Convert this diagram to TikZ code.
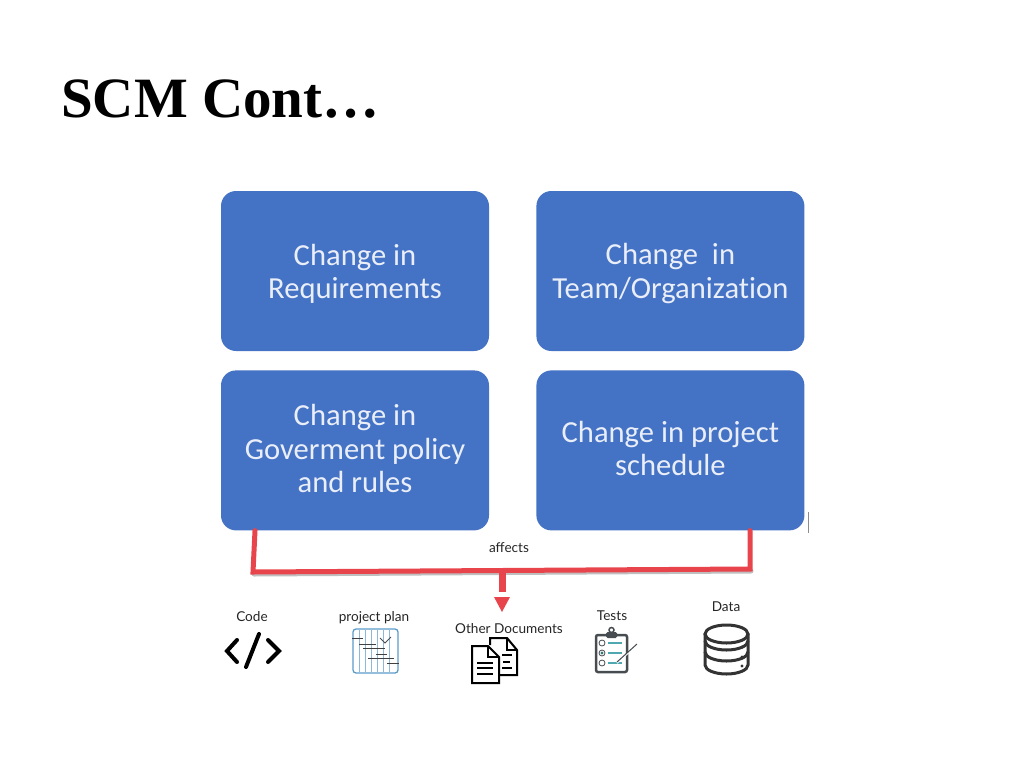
\documentclass[tikz,border=0pt]{standalone}
\usepackage{fontspec}
\setmainfont[Ligatures=NoCommon]{Carlito}
\newfontfamily\titlefont{Liberation Serif}
\newfontfamily\notefont{Lato}
\usetikzlibrary{positioning}

\definecolor{boxblue}{HTML}{4472C4}
\definecolor{linered}{HTML}{E8444C}
\definecolor{planblue}{HTML}{5B9BC8}
\definecolor{testteal}{HTML}{4FA8B0}
\definecolor{icongray}{HTML}{474C50}

\tikzset{
	changebox/.style={draw=none, fill=boxblue, rounded corners=15pt, minimum width=268pt, minimum height=160pt, inner sep=0pt},
	boxtext/.style={align=center, inner sep=0pt, text=white!88!boxblue, font=\fontsize{30.6}{33.5}\selectfont},
	note/.style={inner sep=0pt, text=black!85, font=\notefont\fontsize{13.6}{16}\selectfont},
	redline/.style={line width=5pt, draw=linered, line cap=round, line join=miter},
	redshadow/.style={line width=5pt, draw=black!25, line cap=round},
	iconline/.style={line width=2pt, draw=black, line join=miter},
	plangrid/.style={line width=0.7pt, draw=planblue!70},
	plantask/.style={line width=0.9pt, draw=black!75},
	dbline/.style={line width=3pt, draw=black!80, line cap=round}
}

\begin{document}
\begin{tikzpicture}[x=1pt,y=-1pt]

\useasboundingbox (0,0) rectangle (1024,768);

\node[anchor=base west, inner sep=0pt, font=\titlefont\bfseries\fontsize{57}{60}\selectfont] (title) at (61,117) {SCM Cont…};

\node[changebox, label={[boxtext,yshift=-3pt]center:{Change in\\Requirements}}] (req) at (355,271) {};
\node[changebox, right=47pt of req, label={[boxtext,yshift=-2.5pt]center:{Change\ \ in\\Team/Organization}}] (team) {};
\node[changebox, below=19pt of req, label={[boxtext,yshift=1.5pt]center:{Change in\\Goverment policy\\and rules}}] (gov) {};
\node[changebox, below=19pt of team, label={[boxtext,yshift=2pt]center:{Change in project\\schedule}}] (sched) {};

\draw[line width=1pt, draw=black!45] (808,512) -- (808,533);

% red lines
\coordinate (busl) at (253,572);
\coordinate (busr) at (750,569);
\coordinate (stem) at (502,570);
\coordinate (stemend) at (502,592);

\draw[redshadow] ([shift={(1,2)}]busl) -- ([shift={(1,2)}]busr);
\draw[redline] (gov.south -| 255,0) -- (busl) -- (busr) -- (sched.south -| busr);
\draw[line width=7pt, draw=linered] (stem) -- (stemend);
\fill[linered] (494,597) -- (510,597) -- (502,612) -- cycle;

\node[note] (affects) at (509,548) {affects};
\node[note] (code) at (252,617) {Code};
\node[note] (plan) at (374,618) {project plan};
\node[note] (docs) at (509,629) {Other Documents};
\node[note] (tests) at (612,616) {Tests};
\node[note] (data) at (726,607) {Data};

% code
\draw[line width=4pt, line cap=round] (237,640) -- (227,651) -- (237,662);
\draw[line width=4pt, line cap=round] (259,634) -- (246,667);
\draw[line width=4pt, line cap=round] (268,640) -- (279,651) -- (268,662);

% plan
\foreach \x in {359,365,371,377,383,389}
\draw[plangrid] (\x,630) -- (\x,672);
\draw[line width=1.3pt, draw=planblue, rounded corners=3pt] (353,629) rectangle (398,673);
\foreach \xa/\xb/\y in {352/363/638,359/376/644,363/385/648,376/387/654,368/394/658,387/399/663}
\draw[plantask] (\xa,\y) -- (\xb,\y);
\draw[line width=1pt, draw=black!70] (380,638) -- (385,643) -- (391,637);

% docs
\draw[iconline] (490,645) -- (490,638) -- (507,638) -- (517,650) -- (517,675) -- (500,675);
\draw[iconline] (507,638) -- (507,650) -- (517,650);
\draw[iconline] (472,646) -- (488,646) -- (499,657) -- (499,683) -- (472,683) -- cycle;
\draw[iconline] (488,646) -- (488,657) -- (499,657);
\foreach \y in {663,668,674}
\draw[iconline] (477,\y) -- (493,\y);
\foreach \xa/\xb/\y in {502/512/655,503/510/662,502/512/668}
\draw[iconline] (\xa,\y) -- (\xb,\y);

% tests
\draw[line width=2.5pt, draw=icongray, fill=white, rounded corners=2pt] (596,635) rectangle (627,672);
\fill[icongray, rounded corners=1.5pt] (606,632) rectangle (617,638);
\draw[line width=1.5pt, draw=icongray] (611.5,630) circle (2.5pt);
\foreach \y in {643,653,663}{
\draw[line width=0.8pt, draw=icongray] (602,\y) circle (3pt);
\draw[line width=1.2pt, draw=testteal] (608,\y) -- (622,\y);
}
\fill[testteal!70!black] (602,653) circle (1.6pt);
\draw[line width=1.5pt, draw=white] (617,663) -- (637,645);
\draw[line width=1pt, draw=icongray] (617,662) -- (637,644);

% data
\draw[dbline] (705,634) -- (705,665) arc[start angle=180, end angle=0, x radius=21.5, y radius=9] -- (748,634);
\draw[dbline] (726.5,634) ellipse[x radius=21.5, y radius=9];
\draw[dbline] (705,641) arc[start angle=180, end angle=0, x radius=21.5, y radius=9];
\draw[dbline] (705,652) arc[start angle=180, end angle=0, x radius=21.5, y radius=9];
\foreach \y in {647,657,666}
\fill[black!80] (742,\y) circle (1.6pt);

\end{tikzpicture}
\end{document}
